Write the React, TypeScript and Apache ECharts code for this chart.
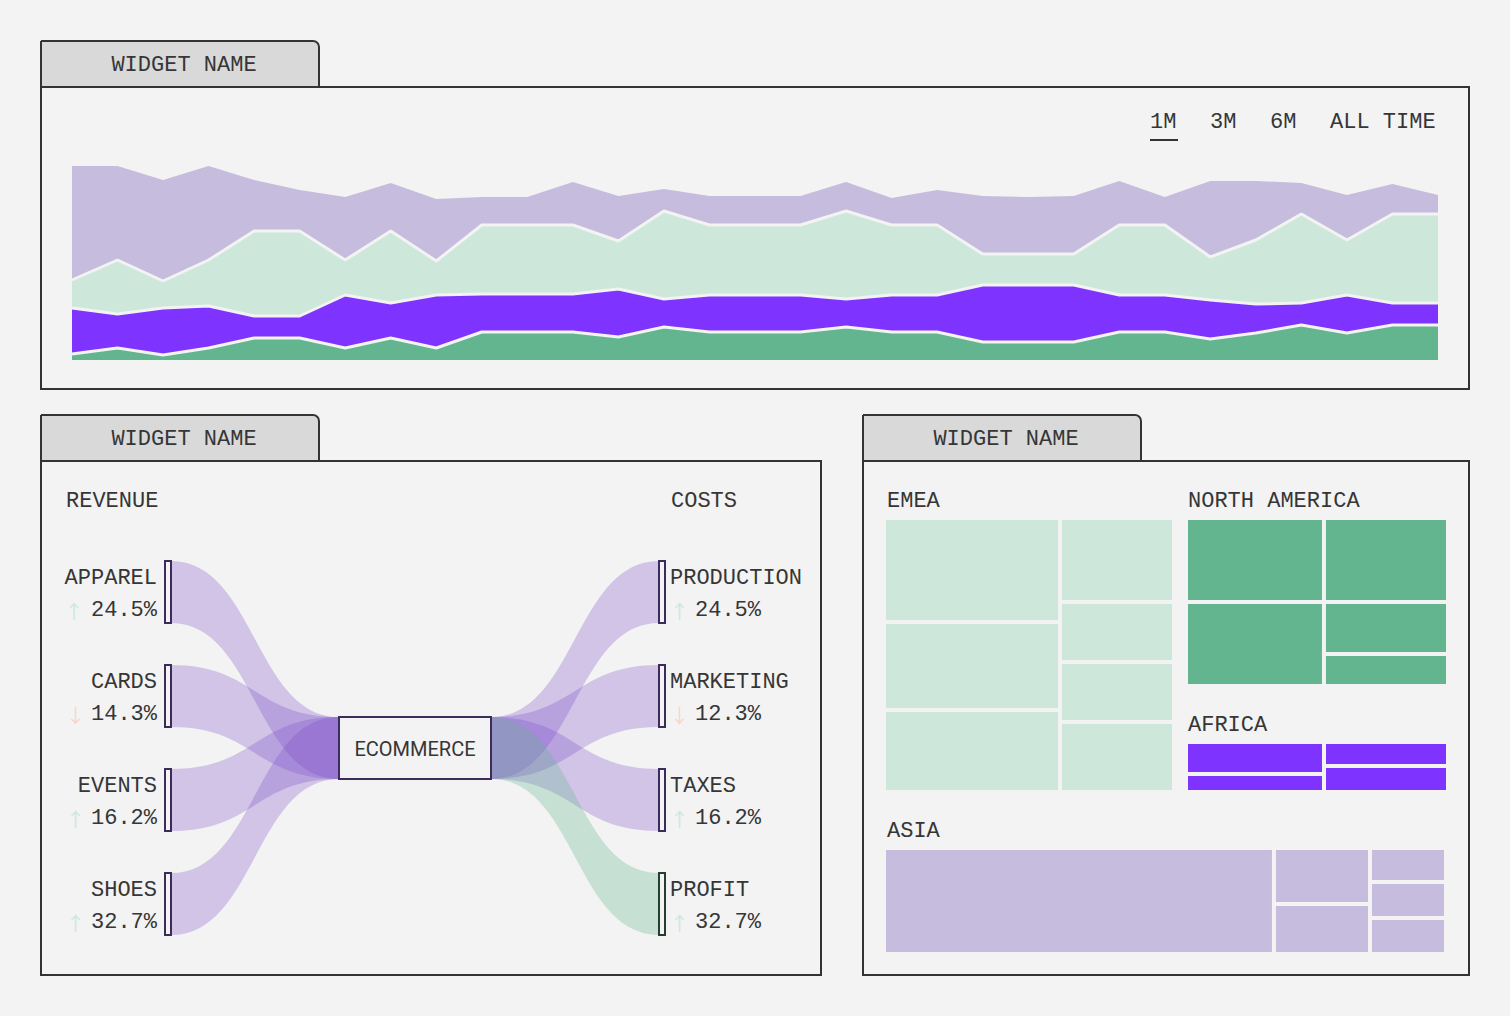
import React, { useEffect, useRef } from 'react';
import * as echarts from 'echarts';

// ---------- data ----------
const DAYS = ['01', '02', '03', '04', '05', '06', '07', '08', '09', '10', '11', '12', '13', '14', '15', '16',
  '17', '18', '19', '20', '21', '22', '23', '24', '25', '26', '27', '28', '29', '30', '31'];
const SERIES_GREEN = [6, 12, 5, 12, 22, 22, 12, 22, 12, 28, 28, 28, 23, 33, 28, 28, 28, 33, 28, 28, 18, 18, 18, 28, 28, 21, 27, 35, 27, 35, 35];
const SERIES_PURPLE = [46, 34, 47, 42, 22, 22, 53, 35, 53, 38, 38, 38, 48, 28, 37, 37, 37, 28, 37, 37, 57, 57, 57, 37, 37, 39, 29, 22, 38, 22, 22];
const SERIES_MINT = [28, 54, 27, 46, 85, 85, 35, 72, 34, 69, 69, 69, 48, 88, 70, 70, 70, 88, 70, 70, 31, 31, 31, 70, 70, 43, 64, 89, 55, 89, 89];
const SERIES_LILAC = [114, 94, 101, 94, 51, 41, 63, 48, 62, 28, 28, 43, 45, 22, 29, 29, 29, 29, 27, 35, 58, 57, 58, 44, 28, 76, 59, 31, 45, 30, 19];
const PERIODS = ['1M', '3M', '6M', 'ALL TIME'];

const REVENUE_NAMES = ['APPAREL', 'CARDS', 'EVENTS', 'SHOES'];
const REVENUE_CHANGE = ['24.5%', '14.3%', '16.2%', '32.7%'];
const REVENUE_TREND = ['up', 'down', 'up', 'up'];
const REVENUE_VALUES = [25, 25, 25, 25];
const COST_NAMES = ['PRODUCTION', 'MARKETING', 'TAXES', 'PROFIT'];
const COST_CHANGE = ['24.5%', '12.3%', '16.2%', '32.7%'];
const COST_TREND = ['up', 'down', 'up', 'up'];
const COST_VALUES = [25, 25, 25, 25];
const HUB_NAME = 'ECOMMERCE';

const EMEA_TILES = [[1830, [1549, 1443]], [[958, 684], [684, 798]]];
const NORTH_AMERICA_TILES = [[1159, 1042], [1159, [645, 397]]];
const AFRICA_TILES = [[442, 248], [298, 322]];
const ASIA_TILES = [4134, [538, 480], [258, [274, 274]]];

// ---------- style ----------
const BG = '#f3f3f3';
const INK = '#363636';
const BORDER = '#333333';
const TAB_FILL = '#d9d9d9';
const GREEN = '#62b58f';
const PURPLE = '#7f33ff';
const MINT = '#cde7da';
const LILAC = '#c5bcde';
const NODE_PURPLE = '#3d2b5c';
const NODE_GREEN = '#233f30';
const FLOW_PURPLE = 'rgb(120,70,200)';
const UP_COLOR = '#c9e8d8';
const DOWN_COLOR = '#fbd3cc';
const MONO = '"Liberation Mono", "DejaVu Sans Mono", monospace';
const ARROW_FONT = '"Noto Sans CJK SC", "DejaVu Sans", sans-serif';
const SANS = 'Roboto, "Noto Sans", sans-serif';

// sankey layout
const SK_LEFT = 165, SK_TOP = 561, SK_W = 500, SK_H = 374;
const SK_NODE_W = 6, SK_GAP = 42, HUB_W = 152;

function txt(text: string, x: number, y: number, opts: any = {}) {
  return {
    type: 'text',
    x, y,
    z: opts.z ?? 5,
    style: {
      text,
      fill: opts.fill ?? INK,
      font: `${opts.size ?? 22}px ${opts.family ?? MONO}`,
      align: opts.align ?? 'left',
      textAlign: opts.align ?? 'left',
      verticalAlign: 'middle',
      textVerticalAlign: 'middle',
    },
  };
}

function widget(x: number, y: number, w: number, h: number) {
  const tabH = 46, tabW = 278;
  return [
    { type: 'rect', z: 1, shape: { x, y: y + tabH, width: w, height: h - tabH }, style: { fill: 'none', stroke: BORDER, lineWidth: 2 } },
    { type: 'rect', z: 1, shape: { x, y, width: tabW, height: tabH, r: [0, 6, 0, 0] }, style: { fill: TAB_FILL, stroke: BORDER, lineWidth: 2 } },
    txt('WIDGET NAME', x + 143, y + tabH / 2 + 1, { align: 'center' }),
  ];
}

function toNodes(tree: any, color: string): any {
  return tree.map((t: any) =>
    Array.isArray(t) ? { children: toNodes(t, color) } : { value: t, itemStyle: { color } });
}

function treemap(tree: any, color: string, left: number, top: number, width: number, height: number, ratio: number) {
  return {
    type: 'treemap',
    left, top, width, height,
    squareRatio: ratio,
    sort: false,
    roam: false,
    nodeClick: false,
    silent: true,
    breadcrumb: { show: false },
    label: { show: false },
    upperLabel: { show: false },
    emphasis: { disabled: true },
    itemStyle: { gapWidth: 4, borderWidth: 0, borderColor: BG },
    data: toNodes(tree, color),
  };
}

function buildOption() {
  const nodeH = (SK_H - 3 * SK_GAP) / 4;
  const hubY = 0.5 - nodeH / 2 / SK_H;
  const hubInX = 0.5 - HUB_W / 2 / SK_W;
  const hubOutX = 0.5 + (HUB_W / 2 - SK_NODE_W) / SK_W;
  const fmt = (n: string, p: string, t: string) => `{n|${n}}\n{${t}|${t === 'up' ? '↑' : '↓'}}{v|${p}}`;

  const nodes: any[] = [];
  const links: any[] = [];
  REVENUE_NAMES.forEach((n, i) => {
    nodes.push({
      name: n,
      itemStyle: { color: BG, borderColor: NODE_PURPLE, borderWidth: 2 },
      label: { position: 'left', distance: 7, offset: [0, 2], formatter: fmt(n, REVENUE_CHANGE[i], REVENUE_TREND[i]) },
    });
  });
  REVENUE_NAMES.forEach((_, i) => {
    nodes.push({ name: `in${i}`, localX: hubInX, localY: hubY, itemStyle: { color: 'rgba(0,0,0,0)', borderWidth: 0 }, label: { show: false } });
  });
  COST_NAMES.forEach((_, i) => {
    nodes.push({ name: `out${i}`, localX: hubOutX, localY: hubY, itemStyle: { color: 'rgba(0,0,0,0)', borderWidth: 0 }, label: { show: false } });
  });
  COST_NAMES.forEach((n, i) => {
    const profit = i === COST_NAMES.length - 1;
    nodes.push({
      name: n,
      itemStyle: { color: BG, borderColor: profit ? NODE_GREEN : NODE_PURPLE, borderWidth: 2 },
      label: { position: 'right', distance: 4, offset: [0, 2], formatter: fmt(n, COST_CHANGE[i], COST_TREND[i]) },
    });
  });
  REVENUE_NAMES.forEach((n, i) => {
    links.push({ source: n, target: `in${i}`, value: REVENUE_VALUES[i], lineStyle: { color: FLOW_PURPLE, opacity: 0.27 } });
    links.push({ source: `in${i}`, target: `out${i}`, value: REVENUE_VALUES[i], lineStyle: { opacity: 0 } });
  });
  COST_NAMES.forEach((n, i) => {
    const profit = i === COST_NAMES.length - 1;
    links.push({ source: `out${i}`, target: n, value: COST_VALUES[i], lineStyle: { color: profit ? GREEN : FLOW_PURPLE, opacity: profit ? 0.3 : 0.27 } });
  });

  const richBase = { fontFamily: MONO, fontSize: 22, lineHeight: 32 };
  const arrowBase = { ...richBase, fontFamily: ARROW_FONT, fontSize: 19, width: 25, align: 'left' };

  const areaSeries = [
    { data: SERIES_GREEN, color: GREEN, z: 6, line: 3 },
    { data: SERIES_PURPLE, color: PURPLE, z: 5, line: 3 },
    { data: SERIES_MINT, color: MINT, z: 4, line: 3 },
    { data: SERIES_LILAC, color: LILAC, z: 3, line: 0 },
  ].map((s) => ({
    type: 'line',
    stack: 'total',
    data: s.data,
    symbol: 'none',
    silent: true,
    z: s.z,
    lineStyle: { width: s.line, color: BG, opacity: s.line ? 1 : 0 },
    areaStyle: { color: s.color, opacity: 1 },
  }));

  const periodX = [1150, 1210, 1270, 1330];
  const graphic: any[] = [
    ...widget(41, 41, 1428, 348),
    ...widget(41, 415, 780, 560),
    ...widget(863, 415, 606, 560),
    ...PERIODS.map((p, i) => txt(p, periodX[i], 122)),
    { type: 'line', z: 5, shape: { x1: 1150, y1: 140, x2: 1178, y2: 140 }, style: { stroke: BORDER, lineWidth: 2 } },
    txt('REVENUE', 66, 501),
    txt('COSTS', 671, 501),
    txt('EMEA', 887, 501),
    txt('NORTH AMERICA', 1188, 501),
    txt('AFRICA', 1188, 725),
    txt('ASIA', 887, 831),
    { type: 'rect', z: 20, shape: { x: SK_LEFT + SK_W / 2 - HUB_W / 2, y: SK_TOP + SK_H / 2 - nodeH / 2, width: HUB_W, height: nodeH }, style: { fill: BG, stroke: NODE_PURPLE, lineWidth: 2 } },
    txt(HUB_NAME, SK_LEFT + SK_W / 2, SK_TOP + SK_H / 2 + 1, { align: 'center', size: 20, family: SANS, z: 21 }),
  ];

  return {
    animation: false,
    backgroundColor: BG,
    grid: { left: 72, right: 72, top: 160, bottom: 656 },
    xAxis: { type: 'category', data: DAYS, boundaryGap: false, show: false },
    yAxis: { type: 'value', min: 0, max: 200, show: false },
    graphic,
    series: [
      ...areaSeries,
      {
        type: 'sankey',
        left: SK_LEFT, top: SK_TOP, width: SK_W, height: SK_H,
        nodeWidth: SK_NODE_W,
        nodeGap: SK_GAP,
        layoutIterations: 0,
        draggable: false,
        silent: true,
        emphasis: { disabled: true },
        label: {
          color: INK, fontFamily: MONO, fontSize: 22, lineHeight: 32,
          rich: {
            n: { ...richBase, color: INK },
            v: { ...richBase, color: INK },
            up: { ...arrowBase, color: UP_COLOR },
            down: { ...arrowBase, color: DOWN_COLOR },
          },
        },
        lineStyle: { curveness: 0.5 },
        data: nodes,
        links,
      },
      treemap(EMEA_TILES, MINT, 886, 520, 286, 270, 1.1),
      treemap(NORTH_AMERICA_TILES, GREEN, 1188, 520, 258, 164, 2.4),
      treemap(AFRICA_TILES, PURPLE, 1188, 744, 258, 46, 4.5),
      treemap(ASIA_TILES, LILAC, 886, 850, 558, 102, 1.11),
    ],
  };
}

export default function App() {
  const ref = useRef<HTMLDivElement>(null);
  useEffect(() => {
    document.body.style.margin = '0';
    document.body.style.background = BG;
    const chart = echarts.init(ref.current!, null, { renderer: 'svg' });
    chart.setOption(buildOption() as any);
    return () => chart.dispose();
  }, []);
  return <div ref={ref} style={{ width: 1510, height: 1016 }} />;
}
